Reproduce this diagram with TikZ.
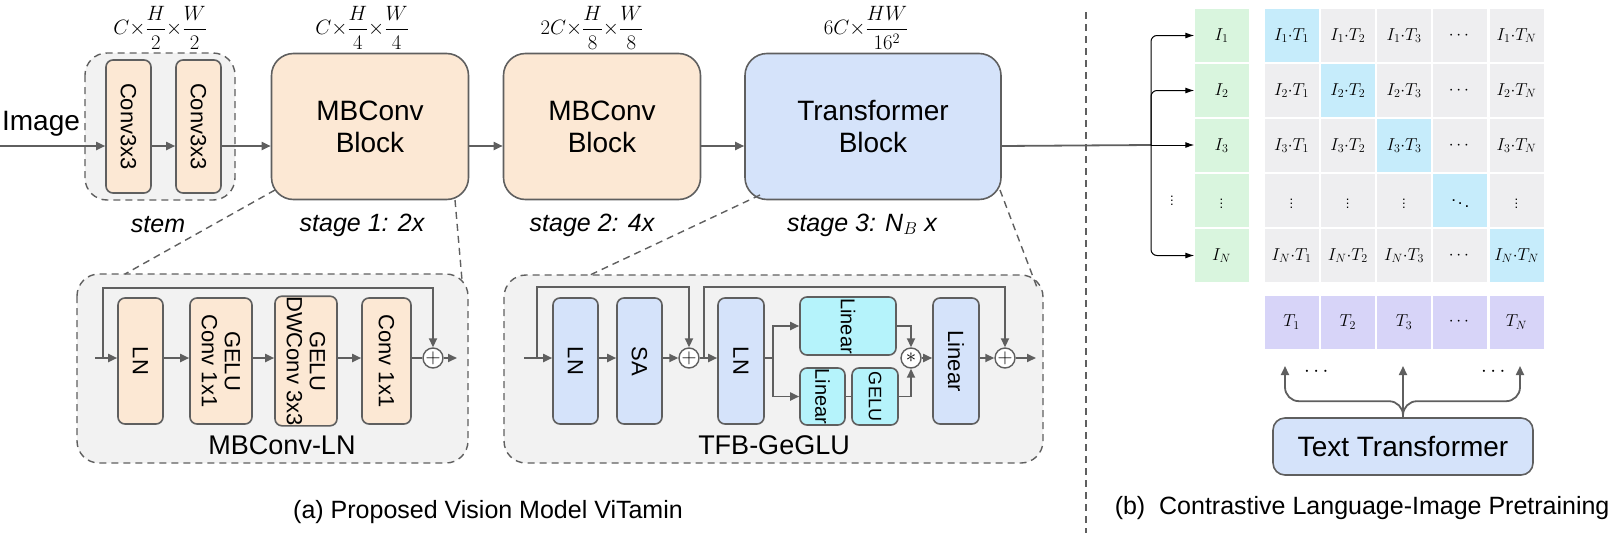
\documentclass[tikz,border=0pt]{standalone}
\usepackage{fontspec}
\setmainfont{Liberation Sans}
\usepackage{amsmath}
\usepackage{xcolor}
\usetikzlibrary{positioning, arrows.meta, shapes.geometric, calc}

\definecolor{linec}{HTML}{5F5F5F}
\definecolor{orangec}{HTML}{FCE8D4}
\definecolor{bluec}{HTML}{D5E3FA}
\definecolor{cyanc}{HTML}{B5F3FB}
\definecolor{panelc}{HTML}{F2F2F2}
\definecolor{greenc}{HTML}{D9F5DE}
\definecolor{cellc}{HTML}{EEEEF0}
\definecolor{diagc}{HTML}{C6ECFB}
\definecolor{purplec}{HTML}{D7D4F8}

\begin{document}
\begin{tikzpicture}[
    x=1pt, y=-1pt,
    blk/.style={draw=linec, line width=1.6pt, rounded corners=7pt, inner sep=0pt, align=center},
    big/.style={blk, rounded corners=22pt, minimum width=197pt, minimum height=146pt, font=\fontsize{28}{32}\selectfont},
    tall/.style={blk, rotate=-90, minimum width=126pt, font=\fontsize{22}{23}\selectfont},
    panel/.style={draw=linec, dashed, line width=1.4pt, fill=panelc, rounded corners=22pt, dash pattern=on 7pt off 5pt},
    zoomline/.style={draw=linec, line width=1.4pt, dash pattern=on 7pt off 5pt},
    sum/.style={circle, draw=linec, line width=1.4pt, fill=white, inner sep=0pt, minimum size=20pt, font=\fontsize{20}{20}\selectfont},
    arr/.style={draw=linec, line width=1.8pt, -{Triangle[length=9pt, width=8pt]}},
    thinarr/.style={draw=black, line width=1pt, -{Latex[length=9pt, width=6pt]}, rounded corners=6pt},
    cell/.style={minimum width=54pt, minimum height=53pt, inner sep=0pt, font=\fontsize{17}{17}\selectfont},
    dimlbl/.style={font=\fontsize{21}{21}\selectfont},
    stagelbl/.style={font=\fontsize{25}{25}\selectfont\itshape},
    caption/.style={font=\fontsize{25}{25}\selectfont},
]
\useasboundingbox (0,0) rectangle (1616,533);

% stem and stages
\draw[panel] (85,53) rectangle (235,200);
\node[tall, fill=orangec, minimum width=133pt, minimum height=45pt] (conv1) at (128.5,126.5) {Conv3x3};
\node[tall, fill=orangec, minimum width=133pt, minimum height=45pt] (conv2) at (198.5,126.5) {Conv3x3};
\node[big, fill=orangec] (mb1) at (370,126.5) {MBConv\\Block};
\node[big, fill=orangec] (mb2) at (602,126.5) {MBConv\\Block};
\node[big, fill=bluec, minimum width=256pt] (tfb) at (873,126.5) {Transformer\\Block};
\node[font=\fontsize{28}{28}\selectfont] (img) at (41,124) {Image};
\coordinate (in) at (0,146);
\draw[arr] (in) -- (in -| conv1.south);
\draw[arr] (conv1.north |- in) -- (conv2.south |- in);
\draw[arr] (conv2.north |- in) -- (mb1.west |- in);
\draw[arr] (mb1.east |- in) -- (mb2.west |- in);
\draw[arr] (mb2.east |- in) -- (tfb.west |- in);

\node[dimlbl] (d0) at (160,28) {$C{\times}\dfrac{H}{2}{\times}\dfrac{W}{2}$};
\node[dimlbl] (d1) at (362,28) {$C{\times}\dfrac{H}{4}{\times}\dfrac{W}{4}$};
\node[dimlbl] (d2) at (592,28) {$2C{\times}\dfrac{H}{8}{\times}\dfrac{W}{8}$};
\node[dimlbl] (d3) at (866,28) {$6C{\times}\dfrac{HW}{16^2}$};
\node[stagelbl] (s0) at (158,225) {stem};
\node[stagelbl] (s1) at (362,225) {stage 1: 2x};
\node[stagelbl] (s2) at (592,225) {stage 2: 4x};
\node[stagelbl] (s3) at (862,225) {stage 3: N$_B$ x};

% MBConv-LN
\draw[panel] (77,274) rectangle (468,463);
\draw[zoomline] (275,190) -- (125,274);
\draw[zoomline] (455,200) -- (462,280);
\node[tall, fill=orangec, minimum height=45pt] (ln0) at (140.5,361) {LN};
\node[tall, fill=orangec, minimum height=62pt] (cv1) at (221,361) {GELU\\Conv 1x1};
\node[tall, fill=orangec, minimum height=62pt] (dw) at (306,361) {GELU\\DWConv 3x3};
\node[tall, fill=orangec, minimum height=49pt] (cv2) at (386.5,361) {Conv 1x1};
\node[sum] (msum) at (433,358) {$+$};
\coordinate (m0) at (95,358);
\coordinate (mskip) at (103,358);
\coordinate (mout) at (457,358);
\draw[arr] (m0) -- (ln0.south |- m0);
\draw[arr] (ln0.north |- m0) -- (cv1.south |- m0);
\draw[arr] (cv1.north |- m0) -- (dw.south |- m0);
\draw[arr] (dw.north |- m0) -- (cv2.south |- m0);
\draw[linec, line width=1.8pt] (cv2.north |- m0) -- (msum);
\draw[arr] (msum) -- (mout);
\draw[arr] (mskip) -- ++(0,-70) -| (msum);
\node[font=\fontsize{27}{27}\selectfont] (mlbl) at (282,445) {MBConv-LN};

% TFB-GeGLU
\draw[panel] (504,275) rectangle (1043,463);
\draw[zoomline] (760,195) -- (590,275);
\draw[zoomline] (1000,190) -- (1038,290);
\node[tall, fill=bluec, minimum height=45pt] (ln1) at (575.5,361) {LN};
\node[tall, fill=bluec, minimum height=45pt] (sa) at (639.5,361) {SA};
\node[sum] (sum1) at (689,358) {$+$};
\node[tall, fill=bluec, minimum height=46pt] (ln2) at (741,361) {LN};
\node[blk, fill=cyanc, minimum width=58pt, minimum height=96pt, rotate=-90, font=\fontsize{20}{20}\selectfont] (lin1) at (848,326) {Linear};
\node[blk, fill=cyanc, rotate=-90, minimum width=57pt, minimum height=45pt, font=\fontsize{20}{20}\selectfont] (lin2) at (822.5,396.5) {Linear};
\node[blk, fill=cyanc, rotate=-90, minimum width=57pt, minimum height=46pt, font=\fontsize{18}{18}\selectfont] (gelu) at (875,396.5) {GELU};
\node[sum] (mul) at (911,358) {$\ast$};
\node[tall, fill=bluec, minimum height=46pt, font=\fontsize{22}{22}\selectfont] (lin3) at (956,361) {Linear};
\node[sum] (sum2) at (1005,358) {$+$};
\coordinate (t0) at (524,358);
\coordinate (tskip1) at (537,358);
\coordinate (tskip2) at (704,358);
\coordinate (tbr) at (773,358);
\coordinate (tout) at (1036,358);
\draw[arr] (t0) -- (ln1.south |- t0);
\draw[arr] (ln1.north |- t0) -- (sa.south |- t0);
\draw[arr] (sa.north |- t0) -- (sum1);
\draw[arr] (sum1) -- (ln2.south |- t0);
\draw[arr] (tskip1) -- ++(0,-71) -| (sum1);
\draw[arr] (tskip2) -- ++(0,-71) -| (sum2);
\draw[linec, line width=1.8pt] (ln2.north |- t0) -- (tbr);
\draw[arr] (tbr) |- (lin1.south);
\draw[arr] (tbr) |- (lin2.south);
\draw[linec, line width=1.8pt] (lin2) -- (gelu);
\draw[arr] (lin1.north) -| (mul);
\draw[arr] (gelu.north) -| (mul);
\draw[arr] (mul) -- (lin3.south |- t0);
\draw[arr] (lin3.north |- t0) -- (sum2);
\draw[arr] (sum2) -- (tout);
\node[font=\fontsize{27}{27}\selectfont] (tlbl) at (774,445) {TFB-GeGLU};

% captions and separator
\node[caption] (capa) at (488,512) {(a) Proposed Vision Model ViTamin};
\node[caption, anchor=east] (capb) at (1613,508) {(b)\ \ Contrastive Language-Image Pretraining};
\draw[zoomline, line width=1.2pt] (1086,12) -- (1086,533);

% contrastive matrix
\foreach \r/\ri in {1/1,2/2,3/3,5/N}
  \node[cell, fill=greenc] (I\r) at (1221.5,35.5+55*\r-55) {$I_{\ri}$};
\node[cell, fill=greenc, font=\fontsize{13}{13}\selectfont] (I4) at (1221.5,200.5) {$\vdots$};
\foreach \r/\ri in {1/1,2/2,3/3,5/N}
  \foreach \c/\ci in {1/1,2/2,3/3,5/N} {
    \ifnum\r=\c \def\cfill{diagc}\else\def\cfill{cellc}\fi
    \node[cell, fill=\cfill] (m\r\c) at (1291.5+56.25*\c-56.25,35.5+55*\r-55) {$I_{\ri}{\cdot}T_{\ci}$};
  }
\foreach \r in {1,2,3,5}
  \node[cell, fill=cellc] (m\r4) at (1460.25,35.5+55*\r-55) {$\cdots$};
\foreach \c in {1,2,3,5}
  \node[cell, fill=cellc, font=\fontsize{13}{13}\selectfont] (m4\c) at (1291.5+56.25*\c-56.25,200.5) {$\vdots$};
\node[cell, fill=diagc] (m44) at (1460.25,200.5) {$\ddots$};
\foreach \c/\ci in {1/1,2/2,3/3,5/N}
  \node[cell, fill=purplec] (T\c) at (1291.5+56.25*\c-56.25,322) {$T_{\ci}$};
\node[cell, fill=purplec] (T4) at (1460.25,322) {$\cdots$};

\coordinate (br) at (1151,145);
\draw[linec, line width=1.8pt] (tfb.east |- in) -- (br);
\draw[thinarr] (br) -- (I3.west |- br);
\draw[thinarr] (br) |- (I1.west);
\draw[thinarr] (br) |- (I2.west);
\draw[thinarr] (br) |- (I5.west);
\node[font=\fontsize{13}{13}\selectfont] (vd) at (1172,198) {$\vdots$};

% text transformer
\node[blk, fill=bluec, rounded corners=12pt, minimum width=260pt, minimum height=57pt, font=\fontsize{28}{28}\selectfont] (tt) at (1403,446.5) {Text Transformer};
\coordinate (tl) at (1285,366);
\coordinate (tc) at (1403,366);
\coordinate (trr) at (1520,366);
\draw[arr] (tt.north) -- (tc);
\draw[arr, rounded corners=14pt] (tt.north) -- ++(0,-16) -| (tl);
\draw[arr, rounded corners=14pt] (tt.north) -- ++(0,-16) -| (trr);
\node[font=\fontsize{20}{20}\selectfont] (dl) at (1318,372) {$\cdots$};
\node[font=\fontsize{20}{20}\selectfont] (dr) at (1495,372) {$\cdots$};
\end{tikzpicture}
\end{document}
